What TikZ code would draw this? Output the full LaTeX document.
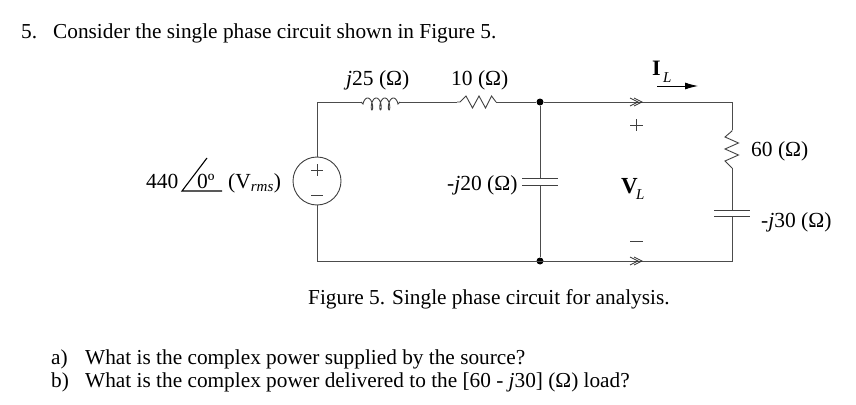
\documentclass[tikz,border=0pt]{standalone}
\usepackage{fontspec}
\setmainfont{Liberation Serif}
\usetikzlibrary{arrows.meta}
\newcommand{\txtsize}{\fontsize{21.3}{24}\selectfont}
\newcommand{\lblsize}{\fontsize{21.5}{24}\selectfont}
\tikzset{
  wire/.style={draw=black!70,line width=0.9pt},
  comp/.style={draw=black!75,line width=0.9pt},
  para/.style={inner sep=0pt,anchor=base west,font=\txtsize,text=black},
  lbl/.style={inner sep=0pt,anchor=base west,font=\lblsize,text=black},
  dot/.style={circle,fill=black,inner sep=0pt,minimum size=7pt},
  chev/.style={draw=black!80,line width=0.8pt}
}
\begin{document}
\begin{tikzpicture}[x=1pt,y=-1pt]
\useasboundingbox (0,0) rectangle (856,404);
\fill[white] (0,0) rectangle (856,404);
% text
\node[para] (t1) at (21,38.5) {5.};
\node[para] (t2) at (53,38.5) {Consider the single phase circuit shown in Figure 5.};
\node[para] (cap) at (308,304) {Figure 5. Single phase circuit for analysis.};
\node[para] (qa) at (51,364) {a)};
\node[para] (qat) at (85,364) {What is the complex power supplied by the source?};
\node[para] (qb) at (51,387) {b)};
\node[para] (qbt) at (85,387) {What is the complex power delivered to the [60 - \textit{j}30] (Ω) load?};
% coordinates
\coordinate (tl) at (317,102);
\coordinate (bl) at (317,261);
\node[dot] (jt) at (540,102) {};
\node[dot] (jb) at (540,261) {};
\coordinate (tr) at (732,102);
\coordinate (br) at (732,261);
\node[circle,draw=black!75,line width=0.9pt,minimum size=48pt,inner sep=0pt] (src) at (317,181) {};
\coordinate (la) at (361,102);
\coordinate (lb) at (400,102);
\coordinate (ra) at (457,102);
\coordinate (rb) at (496,102);
\coordinate (c1a) at (540,178);
\coordinate (c1b) at (540,185);
\coordinate (r2a) at (732,130);
\coordinate (r2b) at (732,168);
\coordinate (c2a) at (732,210);
\coordinate (c2b) at (732,216);
% wires
\draw[wire] (src.north) -- (tl) -- (la);
\draw[wire] (lb) -- (ra);
\draw[wire] (rb) -- (jt) -- (tr) -- (r2a);
\draw[wire] (r2b) -- (c2a);
\draw[wire] (c2b) -- (br) -- (bl) -- (src.south);
\draw[wire] (jt) -- (c1a);
\draw[wire] (c1b) -- (jb);
% inductor
\draw[comp] (la) -- plot[smooth,samples=120,domain=90:1350,variable=\t] ({365.5+(\t-90)/42-2.5*sin(\t)},{104+6*cos(\t)}) -- (lb);
% resistor
\draw[comp] (ra) -- ++(3,0) -- ++(6,-6) -- ++(6.5,12) -- ++(6.5,-12) -- ++(6.5,12) -- ++(6,-12) -- (rb);
% right resistor
\draw[comp] (r2a) -- ++(0,1) -- ++(-7,6) -- ++(13.5,6) -- ++(-13.5,6) -- ++(13.5,6) -- ++(-13.5,6) -- (r2b);
% capacitors
\draw[comp] ([xshift=-18pt]c1a) -- ([xshift=18pt]c1a);
\draw[comp] ([xshift=-18pt]c1b) -- ([xshift=18pt]c1b);
\draw[comp] ([xshift=-18pt]c2a) -- ([xshift=18pt]c2a);
\draw[comp] ([xshift=-18pt]c2b) -- ([xshift=18pt]c2b);
% source polarity
\draw[comp] (317,164) -- (317,176) (311,170) -- (323,170);
\draw[comp] (311,195) -- (323,195);
% angle
\draw[draw=black,line width=1.1pt] (207,158) -- (182,191) -- (222,191);
% chevrons
\draw[chev] (630,98) -- (638,102) -- (630,106) (634,98) -- (642,102) -- (634,106);
\draw[chev] (630,257) -- (638,261) -- (630,265) (634,257) -- (642,261) -- (634,265);
% load polarity
\draw[comp] (636,119) -- (636,131) (630,125) -- (643,125);
\draw[comp] (630,241) -- (643,241);
% current arrow
\coordinate (ia) at (657,86);
\coordinate (ib) at (698,86);
\draw[draw=black,line width=0.9pt,-{Latex[length=13pt,width=7pt]}] (ia) -- (ib);
% labels
\node[lbl] (l1) at (346,85) {\textit{j}25 (Ω)};
\node[lbl] (l2) at (451,85) {10 (Ω)};
\node[lbl] (l3) at (447,190) {-\textit{j}20 (Ω)};
\node[lbl] (l4) at (751,156) {60 (Ω)};
\node[lbl] (l5) at (761,227) {-\textit{j}30 (Ω)};
\node[lbl] (l6) at (146,188) {440};
\node[lbl] (l7) at (197,188) {0º};
\node[lbl] (l8) at (228,188) {(V\textsubscript{\textit{rms}})};
\node[inner sep=0pt,anchor=base west,font=\fontsize{23}{24}\selectfont\bfseries] (vl) at (621,193) {V};
\node[inner sep=0pt,anchor=base west,font=\fontsize{15}{16}\selectfont\itshape] (vls) at (636,199) {L};
\node[inner sep=0pt,anchor=base west,font=\fontsize{22}{24}\selectfont\bfseries] (il) at (652,75) {I};
\node[inner sep=0pt,anchor=base west,font=\fontsize{15}{16}\selectfont\itshape] (ils) at (663,82) {L};
\end{tikzpicture}
\end{document}
